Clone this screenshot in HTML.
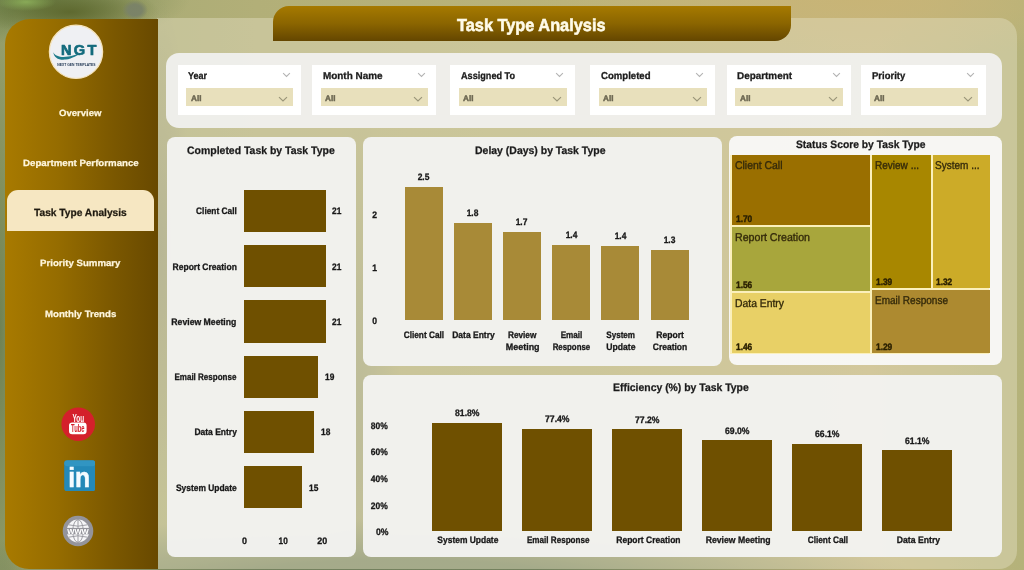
<!DOCTYPE html>
<html lang="en"><head><meta charset="utf-8"><title>Task Type Analysis</title>
<style>
html,body{margin:0;padding:0;}
body{width:1024px;height:570px;overflow:hidden;position:relative;font-family:"Liberation Sans", sans-serif;background:#b9b47c;}
#root{position:absolute;left:0;top:0;width:1024px;height:570px;overflow:hidden;
 background:
  radial-gradient(ellipse 30px 9px at 26px 2px, rgba(140,175,90,0.9), rgba(140,175,90,0) 100%),
  radial-gradient(ellipse 13px 10px at 135px 10px, rgba(122,130,104,0.95) 55%, rgba(122,130,104,0) 100%),
  radial-gradient(ellipse 90px 26px at 70px 12px, rgba(88,98,40,0.85), rgba(88,98,40,0) 100%),
  radial-gradient(ellipse 160px 44px at 30px 0px, rgba(100,122,66,0.9), rgba(100,122,66,0) 100%),
  radial-gradient(ellipse 30px 400px at 0px 330px, rgba(108,128,82,0.95), rgba(108,128,82,0) 100%),
  radial-gradient(ellipse 320px 60px at 860px 0px, rgba(200,180,118,0.95), rgba(200,180,118,0) 100%),
  radial-gradient(ellipse 520px 60px at 400px 578px, rgba(112,126,92,0.95) 30%, rgba(112,126,92,0) 100%),
  radial-gradient(ellipse 40px 300px at 360px 400px, rgba(150,155,120,0.7), rgba(150,155,120,0) 100%),
  radial-gradient(ellipse 30px 250px at 161px 250px, rgba(140,140,110,0.7), rgba(140,140,110,0) 100%),
  linear-gradient(90deg,#a3a973 0%,#b2af78 25%,#bab37a 55%,#c6b67e 85%,#b4b27a 100%);}
#root div, #root svg, #root .t{position:absolute;margin:0;padding:0;}
.t{white-space:nowrap;display:block;}
.nav{-webkit-text-stroke:0.25px currentColor;}
.nava{-webkit-text-stroke:0.25px currentColor;}
.title{-webkit-text-stroke:0.55px currentColor;}
.sl{-webkit-text-stroke:0.3px currentColor;}
.sla{-webkit-text-stroke:0.4px currentColor;}
.ct{-webkit-text-stroke:0.25px currentColor;}
.ax{-webkit-text-stroke:0.3px currentColor;}
.tm{-webkit-text-stroke:0.35px currentColor;}
.tmv{-webkit-text-stroke:0.4px currentColor;}
#overlay{left:157px;top:18px;width:860px;height:550.5px;border-radius:0 18px 18px 0;background:rgba(226,222,194,0.45);}
#sidebar{left:5.4px;top:18.5px;width:152.2px;height:550px;border-radius:25px 0 0 24px;background:linear-gradient(90deg,#a87a00 0%,#956c00 35%,#7a5700 72%,#684900 100%);}
#navactive{left:7px;top:189.5px;width:147px;height:41.8px;border-radius:11px 11px 0 0;background:#f6e7c2;}
#titlebar{left:273.3px;top:5.7px;width:517.6px;height:35.5px;border-radius:16px 0 16px 0;background:linear-gradient(180deg,#a67a00 0%,#8b6500 50%,#644600 100%);}
#filters{left:165.5px;top:52.5px;width:836px;height:75px;border-radius:13px;background:rgba(239,240,236,0.97);}
</style></head>
<body><div id="root">
<div id="overlay"></div>
<nav aria-label="Pages">
<div id="sidebar"></div>
<div id="navactive"></div>
<svg id="logo" style="left:47px;top:23px" width="58" height="58" viewBox="0 0 58 58">
<circle cx="29" cy="28.8" r="26.6" fill="#eff0f3" stroke="#f6e4bd" stroke-width="1.3"/>
<path d="M6.3 29.2 C8.5 33.5, 14 34.6, 21 33.6 C27 32.7, 30.5 30.6, 35 30.2 C30 31.8, 26 35.6, 18.5 36.6 C11.5 37.4, 7 34.5, 6.3 29.2 Z" fill="#1d7b8a"/>
<text x="13.9" y="31.7" font-family="Liberation Sans, sans-serif" font-weight="700" font-size="14.6" letter-spacing="2.4" fill="#136b7d" stroke="#136b7d" stroke-width="0.7" stroke-linejoin="round">NGT</text>
<text x="10.3" y="42.8" font-family="Liberation Sans, sans-serif" font-weight="700" font-size="3.6" fill="#1c3350" textLength="38.2" lengthAdjust="spacingAndGlyphs">NEXT GEN TEMPLATES</text>
</svg>
<span class="t nav" style="left:59.25px;top:108px;font-size:9.1px;line-height:10px;font-weight:700;color:#fff6dc;transform:rotate(0.03deg) scaleX(1.0506);transform-origin:0 50%">Overview</span>
<span class="t nav" style="left:22.50px;top:158px;font-size:9.1px;line-height:10px;font-weight:700;color:#fff6dc;transform:rotate(0.03deg) scaleX(1.0653);transform-origin:0 50%">Department Performance</span>
<span class="t nava" style="left:34.25px;top:207px;font-size:10.4px;line-height:11px;font-weight:700;color:#1f1a10;transform:rotate(0.03deg) scaleX(0.9812);transform-origin:0 50%">Task Type Analysis</span>
<span class="t nav" style="left:40.00px;top:258px;font-size:9.1px;line-height:10px;font-weight:700;color:#fff6dc;transform:rotate(0.03deg) scaleX(1.0618);transform-origin:0 50%">Priority Summary</span>
<span class="t nav" style="left:45.00px;top:309px;font-size:9.1px;line-height:10px;font-weight:700;color:#fff6dc;transform:rotate(0.03deg) scaleX(1.0602);transform-origin:0 50%">Monthly Trends</span>
<svg id="yt" style="left:61px;top:406.5px" width="34.4" height="34.4" viewBox="0 0 34.4 34.4">
<circle cx="17.2" cy="17.2" r="16.8" fill="#d4202b"/>
<text x="17.3" y="14.6" text-anchor="middle" font-family="Liberation Sans, sans-serif" font-weight="700" font-size="10.5" fill="#fff" textLength="11.6" lengthAdjust="spacingAndGlyphs">You</text>
<rect x="8" y="15.4" width="17.6" height="11.8" rx="3.2" fill="#fff"/>
<text x="16.8" y="25.3" text-anchor="middle" font-family="Liberation Sans, sans-serif" font-weight="700" font-size="10.5" fill="#d4202b" textLength="13.6" lengthAdjust="spacingAndGlyphs">Tube</text>
</svg>
<svg id="li" style="left:63.6px;top:459.8px" width="31.6" height="31.6" viewBox="0 0 31.6 31.6">
<rect x="0.2" y="0.2" width="31.2" height="31.2" rx="3.2" fill="#2489b8"/>
<rect x="0.2" y="0.2" width="31.2" height="6" rx="3.2" fill="#3a9cc8" opacity="0.6"/>
<text x="15.2" y="26.6" text-anchor="middle" font-family="Liberation Sans, sans-serif" font-weight="700" font-size="28" fill="#f4fbff" stroke="#f4fbff" stroke-width="0.5" textLength="22" lengthAdjust="spacingAndGlyphs">in</text>
</svg>
<svg id="www" style="left:62px;top:515.2px" width="32" height="32" viewBox="0 0 32 32">
<circle cx="16" cy="16" r="15.3" fill="#94949b"/>
<circle cx="16" cy="16" r="11.4" fill="#f6f6f8"/>
<g fill="none" stroke="#94949b" stroke-width="0.9">
<ellipse cx="16" cy="16" rx="5.2" ry="11.4"/><line x1="16" y1="4.5" x2="16" y2="27.5"/>
<path d="M6.5 9.8 Q16 12.6 25.5 9.8"/><path d="M6.5 22.2 Q16 19.4 25.5 22.2"/>
</g>
<rect x="3.8" y="12.9" width="24.4" height="6.4" fill="#94949b"/>
<text x="16" y="18.7" text-anchor="middle" font-family="Liberation Sans, sans-serif" font-weight="700" font-size="9" fill="#fff" textLength="21.5" lengthAdjust="spacingAndGlyphs">www</text>
</svg>
</nav>
<header>
<div id="titlebar"></div>
<h1 class="t title" style="left:457.25px;top:15px;font-size:17.4px;line-height:20px;font-weight:700;color:#fffbe8;transform:rotate(0.03deg) scaleX(0.9387);transform-origin:0 50%">Task Type Analysis</h1>
</header>
<main>
<section aria-label="Filters">
<div id="filters"></div>
<div style="left:177.5px;top:65px;width:123.75px;height:50px;background:#fff;"></div>
<div style="left:186px;top:88px;width:107.25px;height:18px;background:#e8e0bc;"></div>
<svg style="left:282.15px;top:72.1px" width="9" height="6" viewBox="0 0 9 6"><path d="M1.1 1.1 L4.5 4.4 L7.9 1.1" fill="none" stroke="#b4b4b4" stroke-width="1.1"/></svg>
<svg style="left:278.35px;top:95.6px" width="10" height="7" viewBox="0 0 10 7"><path d="M1 1.1 L5 5 L9 1.1" fill="none" stroke="#9a9579" stroke-width="1.15"/></svg>
<div style="left:312.25px;top:65px;width:123.5px;height:50px;background:#fff;"></div>
<div style="left:320.75px;top:88px;width:107px;height:18px;background:#e8e0bc;"></div>
<svg style="left:416.65px;top:72.1px" width="9" height="6" viewBox="0 0 9 6"><path d="M1.1 1.1 L4.5 4.4 L7.9 1.1" fill="none" stroke="#b4b4b4" stroke-width="1.1"/></svg>
<svg style="left:412.85px;top:95.6px" width="10" height="7" viewBox="0 0 10 7"><path d="M1 1.1 L5 5 L9 1.1" fill="none" stroke="#9a9579" stroke-width="1.15"/></svg>
<div style="left:450.25px;top:65px;width:124.25px;height:50px;background:#fff;"></div>
<div style="left:458.75px;top:88px;width:107.75px;height:18px;background:#e8e0bc;"></div>
<svg style="left:555.4px;top:72.1px" width="9" height="6" viewBox="0 0 9 6"><path d="M1.1 1.1 L4.5 4.4 L7.9 1.1" fill="none" stroke="#b4b4b4" stroke-width="1.1"/></svg>
<svg style="left:551.6px;top:95.6px" width="10" height="7" viewBox="0 0 10 7"><path d="M1 1.1 L5 5 L9 1.1" fill="none" stroke="#9a9579" stroke-width="1.15"/></svg>
<div style="left:590.25px;top:65px;width:124.25px;height:50px;background:#fff;"></div>
<div style="left:598.75px;top:88px;width:107.75px;height:18px;background:#e8e0bc;"></div>
<svg style="left:695.4px;top:72.1px" width="9" height="6" viewBox="0 0 9 6"><path d="M1.1 1.1 L4.5 4.4 L7.9 1.1" fill="none" stroke="#b4b4b4" stroke-width="1.1"/></svg>
<svg style="left:691.6px;top:95.6px" width="10" height="7" viewBox="0 0 10 7"><path d="M1 1.1 L5 5 L9 1.1" fill="none" stroke="#9a9579" stroke-width="1.15"/></svg>
<div style="left:726.75px;top:65px;width:124.5px;height:50px;background:#fff;"></div>
<div style="left:735.25px;top:88px;width:108px;height:18px;background:#e8e0bc;"></div>
<svg style="left:832.15px;top:72.1px" width="9" height="6" viewBox="0 0 9 6"><path d="M1.1 1.1 L4.5 4.4 L7.9 1.1" fill="none" stroke="#b4b4b4" stroke-width="1.1"/></svg>
<svg style="left:828.35px;top:95.6px" width="10" height="7" viewBox="0 0 10 7"><path d="M1 1.1 L5 5 L9 1.1" fill="none" stroke="#9a9579" stroke-width="1.15"/></svg>
<div style="left:861px;top:65px;width:124.5px;height:50px;background:#fff;"></div>
<div style="left:869.5px;top:88px;width:108px;height:18px;background:#e8e0bc;"></div>
<svg style="left:966.4px;top:72.1px" width="9" height="6" viewBox="0 0 9 6"><path d="M1.1 1.1 L4.5 4.4 L7.9 1.1" fill="none" stroke="#b4b4b4" stroke-width="1.1"/></svg>
<svg style="left:962.6px;top:95.6px" width="10" height="7" viewBox="0 0 10 7"><path d="M1 1.1 L5 5 L9 1.1" fill="none" stroke="#9a9579" stroke-width="1.15"/></svg>
<span class="t sl" style="left:188.00px;top:70px;font-size:10px;line-height:11px;font-weight:700;color:#1c1c1c;transform:rotate(0.03deg) scaleX(0.8987);transform-origin:0 50%">Year</span>
<span class="t sla" style="left:190.50px;top:94px;font-size:8px;line-height:9px;font-weight:700;color:#6a6550;transform:rotate(0.03deg) scaleX(1.0260);transform-origin:0 50%">All</span>
<span class="t sl" style="left:322.75px;top:70px;font-size:10px;line-height:11px;font-weight:700;color:#1c1c1c;transform:rotate(0.03deg) scaleX(0.9917);transform-origin:0 50%">Month Name</span>
<span class="t sla" style="left:325.25px;top:94px;font-size:8px;line-height:9px;font-weight:700;color:#6a6550;transform:rotate(0.03deg) scaleX(1.0260);transform-origin:0 50%">All</span>
<span class="t sl" style="left:460.75px;top:70px;font-size:10px;line-height:11px;font-weight:700;color:#1c1c1c;transform:rotate(0.03deg) scaleX(0.9112);transform-origin:0 50%">Assigned To</span>
<span class="t sla" style="left:463.25px;top:94px;font-size:8px;line-height:9px;font-weight:700;color:#6a6550;transform:rotate(0.03deg) scaleX(1.0260);transform-origin:0 50%">All</span>
<span class="t sl" style="left:600.75px;top:70px;font-size:10px;line-height:11px;font-weight:700;color:#1c1c1c;transform:rotate(0.03deg) scaleX(0.9580);transform-origin:0 50%">Completed</span>
<span class="t sla" style="left:603.25px;top:94px;font-size:8px;line-height:9px;font-weight:700;color:#6a6550;transform:rotate(0.03deg) scaleX(1.0260);transform-origin:0 50%">All</span>
<span class="t sl" style="left:737.25px;top:70px;font-size:10px;line-height:11px;font-weight:700;color:#1c1c1c;transform:rotate(0.03deg) scaleX(0.9896);transform-origin:0 50%">Department</span>
<span class="t sla" style="left:739.75px;top:94px;font-size:8px;line-height:9px;font-weight:700;color:#6a6550;transform:rotate(0.03deg) scaleX(1.0260);transform-origin:0 50%">All</span>
<span class="t sl" style="left:871.50px;top:70px;font-size:10px;line-height:11px;font-weight:700;color:#1c1c1c;transform:rotate(0.03deg) scaleX(0.9496);transform-origin:0 50%">Priority</span>
<span class="t sla" style="left:874.00px;top:94px;font-size:8px;line-height:9px;font-weight:700;color:#6a6550;transform:rotate(0.03deg) scaleX(1.0260);transform-origin:0 50%">All</span>
</section>
<section aria-label="Completed Task by Task Type">
<div style="left:166.5px;top:136.5px;width:189.5px;height:420.2px;background:rgba(243,243,240,0.96);border-radius:8px;"></div>
<div style="left:244px;top:189.75px;width:81.795px;height:42.4px;background:#6f5000;"></div>
<div style="left:244px;top:245px;width:81.795px;height:42.4px;background:#6f5000;"></div>
<div style="left:244px;top:300.25px;width:81.795px;height:42.4px;background:#6f5000;"></div>
<div style="left:244px;top:355.5px;width:74.005px;height:42.4px;background:#6f5000;"></div>
<div style="left:244px;top:410.75px;width:70.11px;height:42.4px;background:#6f5000;"></div>
<div style="left:244px;top:466px;width:58.425px;height:42.4px;background:#6f5000;"></div>
<h2 class="t ct" style="left:187.00px;top:144px;font-size:10.8px;line-height:12px;font-weight:700;color:#1a1a1a;transform:rotate(0.03deg) scaleX(0.9694);transform-origin:0 50%">Completed Task by Task Type</h2>
<span class="t ax" style="left:190.91px;top:205px;font-size:9.4px;line-height:11px;font-weight:700;color:#181818;transform:rotate(0.03deg) scaleX(0.8889);transform-origin:100% 50%">Client Call</span>
<span class="t ax" style="left:332.40px;top:205px;font-size:9.4px;line-height:11px;font-weight:700;color:#181818;transform:rotate(0.03deg) scaleX(0.8910);transform-origin:0 50%">21</span>
<span class="t ax" style="left:165.91px;top:261px;font-size:9.4px;line-height:11px;font-weight:700;color:#181818;transform:rotate(0.03deg) scaleX(0.9069);transform-origin:100% 50%">Report Creation</span>
<span class="t ax" style="left:332.40px;top:261px;font-size:9.4px;line-height:11px;font-weight:700;color:#181818;transform:rotate(0.03deg) scaleX(0.8910);transform-origin:0 50%">21</span>
<span class="t ax" style="left:166.41px;top:316px;font-size:9.4px;line-height:11px;font-weight:700;color:#181818;transform:rotate(0.03deg) scaleX(0.9240);transform-origin:100% 50%">Review Meeting</span>
<span class="t ax" style="left:332.40px;top:316px;font-size:9.4px;line-height:11px;font-weight:700;color:#181818;transform:rotate(0.03deg) scaleX(0.8910);transform-origin:0 50%">21</span>
<span class="t ax" style="left:164.31px;top:371px;font-size:9.4px;line-height:11px;font-weight:700;color:#181818;transform:rotate(0.03deg) scaleX(0.8559);transform-origin:100% 50%">Email Response</span>
<span class="t ax" style="left:324.61px;top:371px;font-size:9.4px;line-height:11px;font-weight:700;color:#181818;transform:rotate(0.03deg) scaleX(0.8910);transform-origin:0 50%">19</span>
<span class="t ax" style="left:189.86px;top:426px;font-size:9.4px;line-height:11px;font-weight:700;color:#181818;transform:rotate(0.03deg) scaleX(0.9064);transform-origin:100% 50%">Data Entry</span>
<span class="t ax" style="left:320.71px;top:426px;font-size:9.4px;line-height:11px;font-weight:700;color:#181818;transform:rotate(0.03deg) scaleX(0.8910);transform-origin:0 50%">18</span>
<span class="t ax" style="left:169.02px;top:482px;font-size:9.4px;line-height:11px;font-weight:700;color:#181818;transform:rotate(0.03deg) scaleX(0.8969);transform-origin:100% 50%">System Update</span>
<span class="t ax" style="left:309.03px;top:482px;font-size:9.4px;line-height:11px;font-weight:700;color:#181818;transform:rotate(0.03deg) scaleX(0.8910);transform-origin:0 50%">15</span>
<span class="t ax" style="left:241.79px;top:535px;font-size:9.4px;line-height:11px;font-weight:700;color:#181818;transform:rotate(0.03deg) scaleX(0.9581);transform-origin:50% 50%">0</span>
<span class="t ax" style="left:278.28px;top:535px;font-size:9.4px;line-height:11px;font-weight:700;color:#181818;transform:rotate(0.03deg) scaleX(0.8814);transform-origin:50% 50%">10</span>
<span class="t ax" style="left:317.03px;top:535px;font-size:9.4px;line-height:11px;font-weight:700;color:#181818;transform:rotate(0.03deg) scaleX(0.9581);transform-origin:50% 50%">20</span>
</section>
<section aria-label="Delay (Days) by Task Type">
<div style="left:363.25px;top:136.5px;width:358.75px;height:229px;background:rgba(243,243,240,0.96);border-radius:8px;"></div>
<div style="left:404.5px;top:186.75px;width:38.2px;height:133.25px;background:#a88a37;"></div>
<div style="left:453.7px;top:223.25px;width:38.2px;height:96.75px;background:#a88a37;"></div>
<div style="left:502.9px;top:232px;width:38.2px;height:88px;background:#a88a37;"></div>
<div style="left:552.1px;top:245px;width:38.2px;height:75px;background:#a88a37;"></div>
<div style="left:601.3px;top:246px;width:38.2px;height:74px;background:#a88a37;"></div>
<div style="left:650.5px;top:249.75px;width:38.2px;height:70.25px;background:#a88a37;"></div>
<h2 class="t ct" style="left:475.00px;top:144px;font-size:10.8px;line-height:12px;font-weight:700;color:#1a1a1a;transform:rotate(0.03deg) scaleX(0.9694);transform-origin:0 50%">Delay (Days) by Task Type</h2>
<span class="t ax" style="left:417.08px;top:171px;font-size:9.4px;line-height:11px;font-weight:700;color:#181818;transform:rotate(0.03deg) scaleX(0.9006);transform-origin:50% 50%">2.5</span>
<span class="t ax" style="left:401.18px;top:329px;font-size:9.4px;line-height:11px;font-weight:700;color:#181818;transform:rotate(0.03deg) scaleX(0.8834);transform-origin:50% 50%">Client Call</span>
<span class="t ax" style="left:466.28px;top:207px;font-size:9.4px;line-height:11px;font-weight:700;color:#181818;transform:rotate(0.03deg) scaleX(0.9006);transform-origin:50% 50%">1.8</span>
<span class="t ax" style="left:449.85px;top:329px;font-size:9.4px;line-height:11px;font-weight:700;color:#181818;transform:rotate(0.03deg) scaleX(0.9064);transform-origin:50% 50%">Data Entry</span>
<span class="t ax" style="left:515.48px;top:216px;font-size:9.4px;line-height:11px;font-weight:700;color:#181818;transform:rotate(0.03deg) scaleX(0.9006);transform-origin:50% 50%">1.7</span>
<span class="t ax" style="left:506.34px;top:329px;font-size:9.4px;line-height:11px;font-weight:700;color:#181818;transform:rotate(0.03deg) scaleX(0.8820);transform-origin:50% 50%">Review</span>
<span class="t ax" style="left:504.79px;top:341px;font-size:9.4px;line-height:11px;font-weight:700;color:#181818;transform:rotate(0.03deg) scaleX(0.9528);transform-origin:50% 50%">Meeting</span>
<span class="t ax" style="left:564.68px;top:229px;font-size:9.4px;line-height:11px;font-weight:700;color:#181818;transform:rotate(0.03deg) scaleX(0.9006);transform-origin:50% 50%">1.4</span>
<span class="t ax" style="left:559.19px;top:329px;font-size:9.4px;line-height:11px;font-weight:700;color:#181818;transform:rotate(0.03deg) scaleX(0.8695);transform-origin:50% 50%">Email</span>
<span class="t ax" style="left:549.29px;top:341px;font-size:9.4px;line-height:11px;font-weight:700;color:#181818;transform:rotate(0.03deg) scaleX(0.8368);transform-origin:50% 50%">Response</span>
<span class="t ax" style="left:613.88px;top:230px;font-size:9.4px;line-height:11px;font-weight:700;color:#181818;transform:rotate(0.03deg) scaleX(0.9006);transform-origin:50% 50%">1.4</span>
<span class="t ax" style="left:604.22px;top:329px;font-size:9.4px;line-height:11px;font-weight:700;color:#181818;transform:rotate(0.03deg) scaleX(0.8618);transform-origin:50% 50%">System</span>
<span class="t ax" style="left:605.01px;top:341px;font-size:9.4px;line-height:11px;font-weight:700;color:#181818;transform:rotate(0.03deg) scaleX(0.9204);transform-origin:50% 50%">Update</span>
<span class="t ax" style="left:663.08px;top:234px;font-size:9.4px;line-height:11px;font-weight:700;color:#181818;transform:rotate(0.03deg) scaleX(0.9006);transform-origin:50% 50%">1.3</span>
<span class="t ax" style="left:654.99px;top:329px;font-size:9.4px;line-height:11px;font-weight:700;color:#181818;transform:rotate(0.03deg) scaleX(0.9100);transform-origin:50% 50%">Report</span>
<span class="t ax" style="left:651.08px;top:341px;font-size:9.4px;line-height:11px;font-weight:700;color:#181818;transform:rotate(0.03deg) scaleX(0.9071);transform-origin:50% 50%">Creation</span>
<span class="t ax" style="left:371.69px;top:209px;font-size:9.4px;line-height:11px;font-weight:700;color:#181818;transform:rotate(0.03deg) scaleX(0.9198);transform-origin:50% 50%">2</span>
<span class="t ax" style="left:371.69px;top:262px;font-size:9.4px;line-height:11px;font-weight:700;color:#181818;transform:rotate(0.03deg) scaleX(0.9198);transform-origin:50% 50%">1</span>
<span class="t ax" style="left:371.69px;top:315px;font-size:9.4px;line-height:11px;font-weight:700;color:#181818;transform:rotate(0.03deg) scaleX(0.9198);transform-origin:50% 50%">0</span>
</section>
<section aria-label="Status Score by Task Type">
<div style="left:728.5px;top:136.4px;width:273px;height:229px;background:rgba(248,248,246,0.97);border-radius:8px;"></div>
<div style="left:730.3px;top:154.5px;width:259.2px;height:199.2px;background:#fbf0bb;"></div>
<div style="left:731.5px;top:155px;width:138.75px;height:70px;background:#9a6f00;"></div>
<div style="left:731.5px;top:227px;width:138.75px;height:64.25px;background:#a8a63c;"></div>
<div style="left:731.5px;top:293px;width:138.75px;height:60.25px;background:#e8d066;"></div>
<div style="left:872.25px;top:155px;width:58.5px;height:133.25px;background:#a88700;"></div>
<div style="left:932.75px;top:155px;width:56.75px;height:133.25px;background:#ccab28;"></div>
<div style="left:872.25px;top:290.25px;width:117.25px;height:63px;background:#ad8a30;"></div>
<h2 class="t ct" style="left:796.00px;top:138px;font-size:10.8px;line-height:12px;font-weight:700;color:#1a1a1a;transform:rotate(0.03deg) scaleX(0.9535);transform-origin:0 50%">Status Score by Task Type</h2>
<span class="t tm" style="left:734.50px;top:159px;font-size:11.3px;line-height:12px;font-weight:400;color:#33290a;transform:rotate(0.03deg) scaleX(0.9226);transform-origin:0 50%">Client Call</span>
<span class="t tmv" style="left:735.70px;top:213px;font-size:9.4px;line-height:11px;font-weight:700;color:#2a2000;transform:rotate(0.03deg) scaleX(0.8904);transform-origin:0 50%">1.70</span>
<span class="t tm" style="left:734.50px;top:231px;font-size:11.3px;line-height:12px;font-weight:400;color:#33290a;transform:rotate(0.03deg) scaleX(0.9404);transform-origin:0 50%">Report Creation</span>
<span class="t tmv" style="left:735.70px;top:279px;font-size:9.4px;line-height:11px;font-weight:700;color:#2a2000;transform:rotate(0.03deg) scaleX(0.8904);transform-origin:0 50%">1.56</span>
<span class="t tm" style="left:734.50px;top:297px;font-size:11.3px;line-height:12px;font-weight:400;color:#33290a;transform:rotate(0.03deg) scaleX(0.9180);transform-origin:0 50%">Data Entry</span>
<span class="t tmv" style="left:735.70px;top:341px;font-size:9.4px;line-height:11px;font-weight:700;color:#2a2000;transform:rotate(0.03deg) scaleX(0.8904);transform-origin:0 50%">1.46</span>
<span class="t tm" style="left:874.75px;top:159px;font-size:11.3px;line-height:12px;font-weight:400;color:#33290a;transform:rotate(0.03deg) scaleX(0.8869);transform-origin:0 50%">Review ...</span>
<span class="t tmv" style="left:875.65px;top:276px;font-size:9.4px;line-height:11px;font-weight:700;color:#2a2000;transform:rotate(0.03deg) scaleX(0.8904);transform-origin:0 50%">1.39</span>
<span class="t tm" style="left:935.25px;top:159px;font-size:11.3px;line-height:12px;font-weight:400;color:#33290a;transform:rotate(0.03deg) scaleX(0.8861);transform-origin:0 50%">System ...</span>
<span class="t tmv" style="left:936.15px;top:276px;font-size:9.4px;line-height:11px;font-weight:700;color:#2a2000;transform:rotate(0.03deg) scaleX(0.8904);transform-origin:0 50%">1.32</span>
<span class="t tm" style="left:874.75px;top:294px;font-size:11.3px;line-height:12px;font-weight:400;color:#33290a;transform:rotate(0.03deg) scaleX(0.8874);transform-origin:0 50%">Email Response</span>
<span class="t tmv" style="left:875.65px;top:341px;font-size:9.4px;line-height:11px;font-weight:700;color:#2a2000;transform:rotate(0.03deg) scaleX(0.8904);transform-origin:0 50%">1.29</span>
</section>
<section aria-label="Efficiency (%) by Task Type">
<div style="left:363.25px;top:374.6px;width:638.25px;height:182.1px;background:rgba(243,243,240,0.96);border-radius:8px;"></div>
<div style="left:432px;top:422.5px;width:69.8px;height:108.8px;background:#6f5000;"></div>
<div style="left:522.05px;top:428.5px;width:69.8px;height:102.8px;background:#6f5000;"></div>
<div style="left:612.1px;top:429px;width:69.8px;height:102.3px;background:#6f5000;"></div>
<div style="left:702.15px;top:440px;width:69.8px;height:91.3px;background:#6f5000;"></div>
<div style="left:792.2px;top:443.75px;width:69.8px;height:87.55px;background:#6f5000;"></div>
<div style="left:882.25px;top:450.25px;width:69.8px;height:81.05px;background:#6f5000;"></div>
<h2 class="t ct" style="left:612.75px;top:381px;font-size:10.8px;line-height:12px;font-weight:700;color:#1a1a1a;transform:rotate(0.03deg) scaleX(0.9654);transform-origin:0 50%">Efficiency (%) by Task Type</h2>
<span class="t ax" style="left:453.90px;top:407px;font-size:9.4px;line-height:11px;font-weight:700;color:#181818;transform:rotate(0.03deg) scaleX(0.9213);transform-origin:50% 50%">81.8%</span>
<span class="t ax" style="left:434.03px;top:534px;font-size:9.4px;line-height:11px;font-weight:700;color:#181818;transform:rotate(0.03deg) scaleX(0.9006);transform-origin:50% 50%">System Update</span>
<span class="t ax" style="left:543.95px;top:413px;font-size:9.4px;line-height:11px;font-weight:700;color:#181818;transform:rotate(0.03deg) scaleX(0.9213);transform-origin:50% 50%">77.4%</span>
<span class="t ax" style="left:521.73px;top:534px;font-size:9.4px;line-height:11px;font-weight:700;color:#181818;transform:rotate(0.03deg) scaleX(0.8628);transform-origin:50% 50%">Email Response</span>
<span class="t ax" style="left:634.00px;top:414px;font-size:9.4px;line-height:11px;font-weight:700;color:#181818;transform:rotate(0.03deg) scaleX(0.9213);transform-origin:50% 50%">77.2%</span>
<span class="t ax" style="left:612.58px;top:534px;font-size:9.4px;line-height:11px;font-weight:700;color:#181818;transform:rotate(0.03deg) scaleX(0.9069);transform-origin:50% 50%">Report Creation</span>
<span class="t ax" style="left:724.05px;top:425px;font-size:9.4px;line-height:11px;font-weight:700;color:#181818;transform:rotate(0.03deg) scaleX(0.9213);transform-origin:50% 50%">69.0%</span>
<span class="t ax" style="left:702.88px;top:534px;font-size:9.4px;line-height:11px;font-weight:700;color:#181818;transform:rotate(0.03deg) scaleX(0.9240);transform-origin:50% 50%">Review Meeting</span>
<span class="t ax" style="left:814.10px;top:428px;font-size:9.4px;line-height:11px;font-weight:700;color:#181818;transform:rotate(0.03deg) scaleX(0.9213);transform-origin:50% 50%">66.1%</span>
<span class="t ax" style="left:805.18px;top:534px;font-size:9.4px;line-height:11px;font-weight:700;color:#181818;transform:rotate(0.03deg) scaleX(0.8834);transform-origin:50% 50%">Client Call</span>
<span class="t ax" style="left:904.15px;top:435px;font-size:9.4px;line-height:11px;font-weight:700;color:#181818;transform:rotate(0.03deg) scaleX(0.9213);transform-origin:50% 50%">61.1%</span>
<span class="t ax" style="left:894.70px;top:534px;font-size:9.4px;line-height:11px;font-weight:700;color:#181818;transform:rotate(0.03deg) scaleX(0.9224);transform-origin:50% 50%">Data Entry</span>
<span class="t ax" style="left:369.48px;top:420px;font-size:9.4px;line-height:11px;font-weight:700;color:#181818;transform:rotate(0.03deg) scaleX(0.9059);transform-origin:100% 50%">80%</span>
<span class="t ax" style="left:369.48px;top:446px;font-size:9.4px;line-height:11px;font-weight:700;color:#181818;transform:rotate(0.03deg) scaleX(0.9059);transform-origin:100% 50%">60%</span>
<span class="t ax" style="left:369.48px;top:473px;font-size:9.4px;line-height:11px;font-weight:700;color:#181818;transform:rotate(0.03deg) scaleX(0.9059);transform-origin:100% 50%">40%</span>
<span class="t ax" style="left:369.48px;top:500px;font-size:9.4px;line-height:11px;font-weight:700;color:#181818;transform:rotate(0.03deg) scaleX(0.9059);transform-origin:100% 50%">20%</span>
<span class="t ax" style="left:374.69px;top:526px;font-size:9.4px;line-height:11px;font-weight:700;color:#181818;transform:rotate(0.03deg) scaleX(0.9217);transform-origin:100% 50%">0%</span>
</section>
</main>
</div></body></html>
